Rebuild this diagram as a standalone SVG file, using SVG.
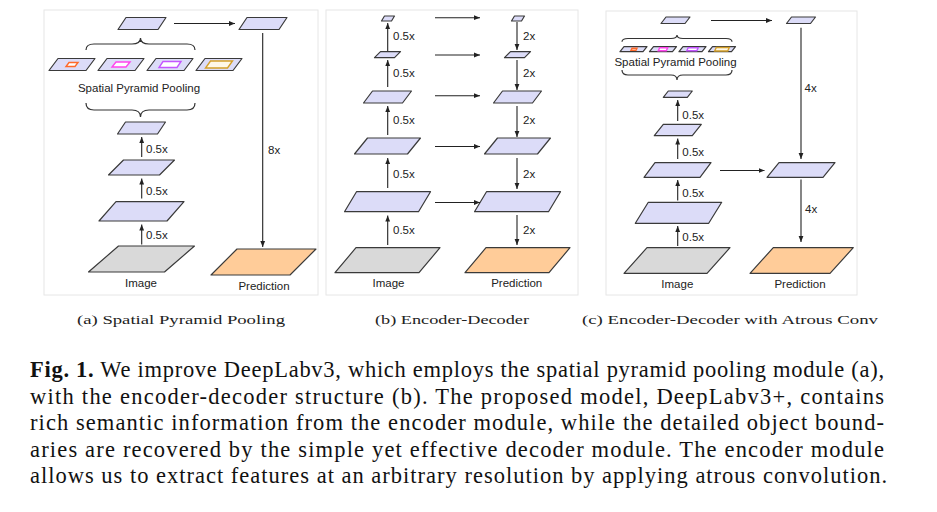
<svg xmlns="http://www.w3.org/2000/svg" width="937" height="512" viewBox="0 0 937 512">
<style>
.bg{fill:#ffffff}
.panel{fill:#ffffff;stroke:#e6e6e6;stroke-width:1}
.fm{fill:#dcdcf8;stroke:#3a3a3a;stroke-width:1.2;stroke-linejoin:round}
.img{fill:#d9d9d9;stroke:#3a3a3a;stroke-width:1.2;stroke-linejoin:round}
.pred{fill:#ffcc99;stroke:#3a3a3a;stroke-width:1.2;stroke-linejoin:round}
.arr{fill:none;stroke:#222;stroke-width:1.1;marker-end:url(#ah)}
.ln{fill:none;stroke:#333;stroke-width:1.1}
.brace{fill:none;stroke:#333;stroke-width:1.2}
.lbl{font-family:"Liberation Sans",Arial,sans-serif;font-size:11.5px;fill:#222}
.mid{text-anchor:middle}
.cap{font-family:"Liberation Serif","Times New Roman",serif;font-size:13.5px;fill:#222}
.body{font-family:"Liberation Serif","Times New Roman",serif;font-size:22.5px;fill:#111}
.c1{fill:#ffffff;stroke:#ff6a2a;stroke-width:1.4}
.c2{fill:#ffffff;stroke:#ff44ee;stroke-width:1.4}
.c3{fill:#ffffff;stroke:#c455ff;stroke-width:1.4}
.c4{fill:#fff8e8;stroke:#d4a02a;stroke-width:1.4}
</style>
<defs>
<marker id="ah" viewBox="0 0 10 10" refX="10" refY="5" markerWidth="6" markerHeight="6" orient="auto" markerUnits="userSpaceOnUse">
<path d="M0,1 L10,5 L0,9 z" fill="#222"/>
</marker>
</defs>
<rect class="bg" x="0" y="0" width="937" height="512"/>

<g id="panels">
<rect class="panel" x="44" y="10" width="274" height="285"/>
<rect class="panel" x="326" y="10" width="252" height="285"/>
<rect class="panel" x="606" y="11" width="251" height="284"/>
</g>

<!-- Panel (a) -->
<g id="a-top-left"><polygon class="fm" points="126,17.5 166,17.5 158,29.5 118,29.5"/></g>
<g id="a-top-right"><polygon class="fm" points="247,17.5 287,17.5 279,29.5 239,29.5"/></g>
<g id="a-spp">
<path class="brace" d="M86,50 Q86,44 94,44 L132,44 Q140.5,44 140.5,38 Q140.5,44 149,44 L187,44 Q195,44 195,50"/>
<polygon class="fm" points="58,58.5 95,58.5 86,70.5 49,70.5"/>
<polygon class="c1" points="69,62.5 78,62.5 75,66.5 66,66.5"/>
<polygon class="fm" points="107,58.5 144,58.5 135,70.5 98,70.5"/>
<polygon class="c2" points="116,62 130,62 126,67 112,67"/>
<polygon class="fm" points="156,58.5 193,58.5 184,70.5 147,70.5"/>
<polygon class="c3" points="163,61.5 181,61.5 177,67.5 159,67.5"/>
<polygon class="fm" points="205,58.5 242,58.5 233,70.5 196,70.5"/>
<polygon class="c4" points="210.5,61 232.5,61 227.5,68 205.5,68"/>
<text class="lbl mid" x="139" y="92">Spatial Pyramid Pooling</text>
<path class="brace" d="M86,103 Q86,110 94,110 L132,110 Q140.5,110 140.5,117 Q140.5,110 149,110 L187,110 Q195,110 195,103"/>
</g>
<g id="a-l1"><polygon class="fm" points="125.5,122 165.5,122 157.5,134 117.5,134"/></g>
<g id="a-l2"><polygon class="fm" points="123.5,160 174.5,160 159.5,175 108.5,175"/></g>
<g id="a-l3"><polygon class="fm" points="116,201.7 184,201.7 167,221 99,221"/></g>
<g id="a-image"><polygon class="img" points="118.5,246 194.5,246 164.5,272 88.5,272"/><text class="lbl mid" x="141" y="287">Image</text></g>
<g id="a-pred"><polygon class="pred" points="237,249 316,249 290,275 211,275"/><text class="lbl mid" x="264" y="289.5">Prediction</text></g>

<!-- Panel (b) -->
<g id="b-e1"><polygon class="fm" points="384.5,16 394.5,16 391.5,21 381.5,21"/></g>
<g id="b-e2"><polygon class="fm" points="380.5,51.7 400.5,51.7 394.5,57.7 374.5,57.7"/></g>
<g id="b-e3"><polygon class="fm" points="372.5,91 411.5,91 402.5,103 363.5,103"/></g>
<g id="b-e4"><polygon class="fm" points="367.5,138 420.5,138 407.5,154 354.5,154"/></g>
<g id="b-e5"><polygon class="fm" points="356.5,191.7 430.5,191.7 418.5,211.7 344.5,211.7"/></g>
<g id="b-image"><polygon class="img" points="356,247.7 440,247.7 419,272.7 335,272.7"/><text class="lbl mid" x="388.5" y="287.3">Image</text></g>
<g id="b-d1"><polygon class="fm" points="514.5,16 524.5,16 521.5,21 511.5,21"/></g>
<g id="b-d2"><polygon class="fm" points="510.5,51.7 530.5,51.7 524.5,57.7 504.5,57.7"/></g>
<g id="b-d3"><polygon class="fm" points="502.5,91 541.5,91 532.5,103 493.5,103"/></g>
<g id="b-d4"><polygon class="fm" points="497.5,138 550.5,138 537.5,154 484.5,154"/></g>
<g id="b-d5"><polygon class="fm" points="486.5,191.7 560.5,191.7 548.5,211.7 474.5,211.7"/></g>
<g id="b-pred"><polygon class="pred" points="486,247.7 570,247.7 549,272.7 465,272.7"/><text class="lbl mid" x="516.7" y="287.3">Prediction</text></g>

<!-- Panel (c) -->
<g id="c-top-left"><polygon class="fm" points="666,17 690,17 685,23.5 661,23.5"/></g>
<g id="c-top-right"><polygon class="fm" points="791.5,17 815.5,17 810.5,23.5 786.5,23.5"/></g>
<g id="c-spp">
<path class="brace" d="M622,41.7 Q622,38.5 628,38.5 L671,38.5 Q677,38.5 677,35 Q677,38.5 683,38.5 L726,38.5 Q732,38.5 732,41.7"/>
<polygon class="fm" points="624,46.7 647,46.7 643,51.7 620,51.7"/>
<polygon class="c1" points="632,48.2 637,48.2 636,50.2 631,50.2"/>
<polygon class="fm" points="653.5,46.7 676.5,46.7 672.5,51.7 649.5,51.7"/>
<polygon class="c2" points="659.7,47.7 667.7,47.7 666.3,50.7 658.3,50.7"/>
<polygon class="fm" points="683,46.7 706,46.7 702,51.7 679,51.7"/>
<polygon class="c3" points="688.2,47.7 698.2,47.7 696.8,50.7 686.8,50.7"/>
<polygon class="fm" points="712.5,46.7 735.5,46.7 731.5,51.7 708.5,51.7"/>
<polygon class="c4" points="716.3,47.5 729.3,47.5 727.7,51 714.7,51"/>
<text class="lbl mid" x="675.5" y="65.7">Spatial Pyramid Pooling</text>
<path class="brace" d="M622,70 Q622,75 628,75 L671,75 Q677,75 677,80 Q677,75 683,75 L726,75 Q732,75 732,70"/>
</g>
<g id="c-l1"><polygon class="fm" points="668.3,91 692.3,91 687.3,97.3 663.3,97.3"/></g>
<g id="c-l2"><polygon class="fm" points="663.3,124.3 701.3,124.3 692.3,135.7 654.3,135.7"/></g>
<g id="c-l3"><polygon class="fm" points="655,162.7 711,162.7 700,177.3 644,177.3"/></g>
<g id="c-d1"><polygon class="fm" points="779,162.7 835,162.7 823,177.3 767,177.3"/></g>
<g id="c-l4"><polygon class="fm" points="648.3,202.3 721.7,202.3 708.7,223.3 635.3,223.3"/></g>
<g id="c-image"><polygon class="img" points="647,247.7 730,247.7 707,273.3 624,273.3"/><text class="lbl mid" x="677.3" y="287.7">Image</text></g>
<g id="c-pred"><polygon class="pred" points="773.3,247.7 853.3,247.7 830,273.3 750,273.3"/><text class="lbl mid" x="800" y="287.7">Prediction</text></g>

<g id="connectors">
<!-- a -->
<line class="arr" x1="174" y1="23.5" x2="235" y2="23.5"/>
<line class="arr" x1="262.7" y1="33" x2="262.7" y2="247"/>
<text class="lbl" x="268" y="154">8x</text>
<line class="arr" x1="141.7" y1="157" x2="141.7" y2="137"/>
<text class="lbl" x="146" y="153">0.5x</text>
<line class="arr" x1="141.7" y1="198.5" x2="141.7" y2="178.5"/>
<text class="lbl" x="146" y="195">0.5x</text>
<line class="arr" x1="141.7" y1="244.5" x2="141.7" y2="224.5"/>
<text class="lbl" x="146" y="239">0.5x</text>
<!-- b encoder -->
<line class="arr" x1="387.7" y1="51" x2="387.7" y2="23"/>
<text class="lbl" x="393" y="40">0.5x</text>
<line class="arr" x1="387.7" y1="87" x2="387.7" y2="60"/>
<text class="lbl" x="393" y="77">0.5x</text>
<line class="arr" x1="387.7" y1="135" x2="387.7" y2="106"/>
<text class="lbl" x="393" y="123.5">0.5x</text>
<line class="arr" x1="387.7" y1="188" x2="387.7" y2="158"/>
<text class="lbl" x="393" y="177.5">0.5x</text>
<line class="arr" x1="387.7" y1="245" x2="387.7" y2="215.5"/>
<text class="lbl" x="393" y="233.5">0.5x</text>
<!-- b decoder -->
<line class="arr" x1="517" y1="22" x2="517" y2="50"/>
<text class="lbl" x="523" y="40">2x</text>
<line class="arr" x1="517" y1="60" x2="517" y2="90"/>
<text class="lbl" x="523" y="77">2x</text>
<line class="arr" x1="517" y1="106" x2="517" y2="137"/>
<text class="lbl" x="523" y="123.5">2x</text>
<line class="arr" x1="517" y1="158" x2="517" y2="189"/>
<text class="lbl" x="523" y="177.5">2x</text>
<line class="arr" x1="517" y1="215" x2="517" y2="245"/>
<text class="lbl" x="523" y="233.5">2x</text>
<!-- b skip -->
<line class="arr" x1="435" y1="17.7" x2="480" y2="17.7"/>
<line class="arr" x1="435" y1="55" x2="480" y2="55"/>
<line class="arr" x1="435" y1="95.7" x2="480" y2="95.7"/>
<line class="arr" x1="435" y1="146.5" x2="480" y2="146.5"/>
<line class="arr" x1="435" y1="202.5" x2="480" y2="202.5"/>
<!-- c -->
<line class="arr" x1="711" y1="20.5" x2="772" y2="20.5"/>
<line class="arr" x1="801" y1="27.7" x2="801" y2="159"/>
<text class="lbl" x="804.5" y="91.5">4x</text>
<line class="arr" x1="677.7" y1="121" x2="677.7" y2="100"/>
<text class="lbl" x="682.3" y="118.5">0.5x</text>
<line class="arr" x1="677.7" y1="159" x2="677.7" y2="138.5"/>
<text class="lbl" x="682.3" y="155.5">0.5x</text>
<line class="arr" x1="677.7" y1="200.5" x2="677.7" y2="180"/>
<text class="lbl" x="682.3" y="197">0.5x</text>
<line class="arr" x1="677.7" y1="246" x2="677.7" y2="226"/>
<text class="lbl" x="682.3" y="241">0.5x</text>
<line class="arr" x1="720" y1="170.5" x2="764.5" y2="170.5"/>
<line class="arr" x1="801" y1="179.5" x2="801" y2="242"/>
<text class="lbl" x="805" y="213">4x</text>
</g>

<g id="captions">
<text class="cap" x="77" y="324" textLength="208" lengthAdjust="spacingAndGlyphs">(a) Spatial Pyramid Pooling</text>
<text class="cap" x="375" y="324" textLength="154" lengthAdjust="spacingAndGlyphs">(b) Encoder-Decoder</text>
<text class="cap" x="582" y="324" textLength="296" lengthAdjust="spacingAndGlyphs">(c) Encoder-Decoder with Atrous Conv</text>
</g>

<g id="body-text">
<text class="body" x="30" y="377" textLength="854" lengthAdjust="spacing"><tspan font-weight="bold">Fig. 1.</tspan> We improve DeepLabv3, which employs the spatial pyramid pooling module (a),</text>
<text class="body" x="30" y="403.5" textLength="854" lengthAdjust="spacing">with the encoder-decoder structure (b). The proposed model, DeepLabv3+, contains</text>
<text class="body" x="30" y="430" textLength="854" lengthAdjust="spacing">rich semantic information from the encoder module, while the detailed object bound-</text>
<text class="body" x="30" y="456.5" textLength="854" lengthAdjust="spacing">aries are recovered by the simple yet effective decoder module. The encoder module</text>
<text class="body" x="30" y="483" textLength="857" lengthAdjust="spacing">allows us to extract features at an arbitrary resolution by applying atrous convolution.</text>
</g>
</svg>
